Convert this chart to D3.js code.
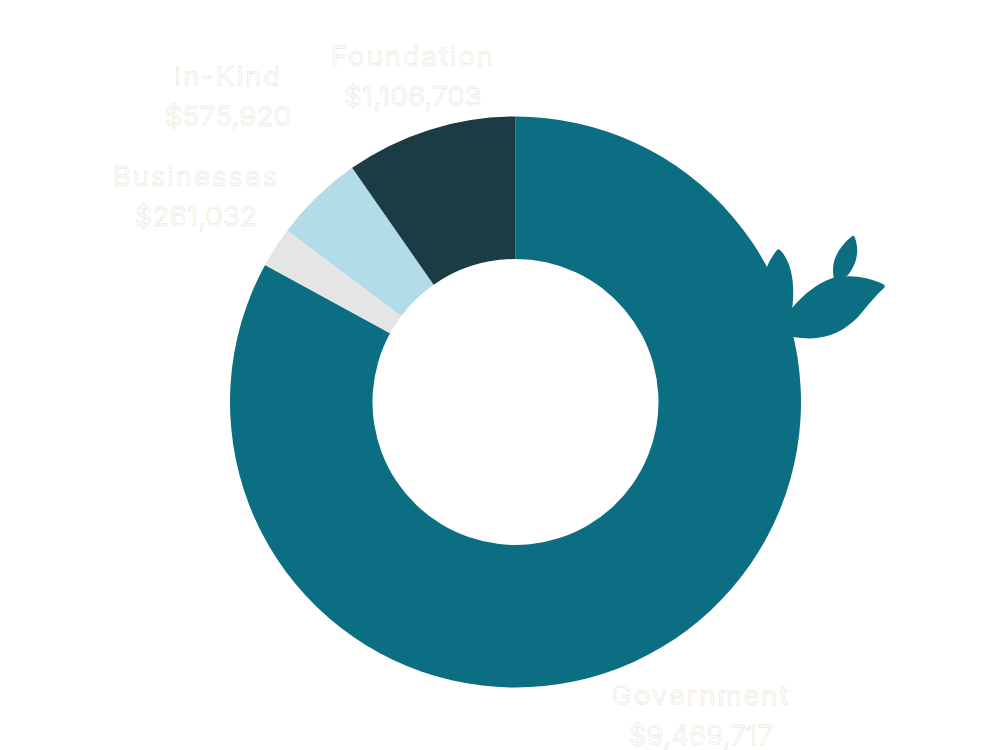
<!DOCTYPE html>
<html><head><meta charset="utf-8">
<script src="https://cdn.jsdelivr.net/npm/d3@7"></script>
<style>html,body{margin:0;background:#fff}svg{display:block}
text{font-family:Inter,"Open Sans",sans-serif;font-size:27.5px;font-weight:400;fill:#fefbf5;stroke:#77776c;stroke-opacity:.24;stroke-width:.5px;text-anchor:middle}
.name{letter-spacing:1.9px}.amt{letter-spacing:.2px}</style>
</head><body><svg width="1000" height="750"></svg>
<script>
const categories=["Government","Businesses","In-Kind","Foundation"];
const amounts=[9469717,261032,575920,1106703];
const amountLabels=["$9,469,717","$261,032","$575,920","$1,106,703"];
const colors=["#0b6e82","#e5e5e5","#b2dce8","#1b3b45"];
const labelAnchors=[[701,705],[196,186],[228,86],[413,66]];
const svg=d3.select("svg");
const g=svg.append("g").attr("transform","translate(515.5,402)");
const pie=d3.pie().sort(null).value(d=>d)(amounts);
const arc=d3.arc().innerRadius(143).outerRadius(285.5);
g.selectAll("path.slice").data(pie).join("path").attr("class","slice").attr("d",arc).attr("fill",(d,i)=>colors[i]);
const leaves=[
"M762 274L767 267C770 259 774 254 777 250Q779 248 781 251C790 261 796 280 792 310L775 312Z",
"M834 279C830 262 838 248 851 237Q854 234 855 238C860 252 856 266 847 276Z",
"M792 308C806 292 818 283 833 278C850 274 868 277 883 284Q886 286 884 288C872 299 866 308 858 317C842 333 824 342 793 337L775 330L775 300Z"];
svg.selectAll("path.leaf").data(leaves).join("path").attr("class","leaf").attr("d",d=>d).attr("fill",colors[0]);
const lab=svg.selectAll("g.lab").data(categories).join("g").attr("class","lab");
lab.append("text").attr("class","name").attr("x",(d,i)=>labelAnchors[i][0]).attr("y",(d,i)=>labelAnchors[i][1]).text(d=>d);
lab.append("text").attr("class","amt").attr("x",(d,i)=>labelAnchors[i][0]).attr("y",(d,i)=>labelAnchors[i][1]+39.5).text((d,i)=>amountLabels[i]);
</script></body></html>
